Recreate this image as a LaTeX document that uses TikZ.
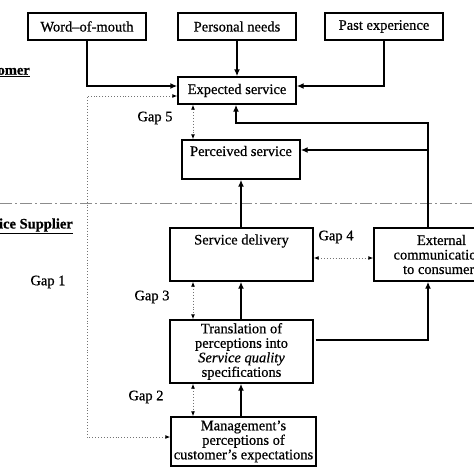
\documentclass[tikz,border=0pt]{standalone}
\usepackage{fontspec}
\setmainfont{Liberation Serif}[FakeBold=0.6]
\usetikzlibrary{arrows.meta}
\begin{document}
\begin{tikzpicture}[x=1pt,y=-1pt,
  txt/.style={font=\fontsize{14.5}{14.5}\selectfont, inner sep=0pt, align=center},
  box/.style={draw, line width=1.4pt, rectangle, inner sep=0pt, align=center, font=\fontsize{14.5}{14.5}\selectfont},
  arr/.style={line width=1.4pt, -{Latex[length=7pt,width=6pt]}},
  gaparr/.style={draw=black!55, line width=0.9pt, dotted, {Latex[length=5pt,width=4pt,black]}-{Latex[length=5pt,width=4pt,black]}},
  sect/.style={font=\bfseries\fontsize{14.5}{14.5}\selectfont, inner sep=0pt, anchor=east}]
\path[use as bounding box, clip] (0,0) rectangle (474,474);
\fill[white] (0,0) rectangle (474,474);
% boxes
\node[box, minimum width=118, minimum height=27] (wom) at (87,26.5) {Word–of-mouth};
\node[box, minimum width=118, minimum height=27] (pn) at (237,26.5) {Personal needs};
\node[box, minimum width=118, minimum height=27] (pe) at (384,26.5) {Past experience};
\node[box, minimum width=118, minimum height=27] (es) at (237,90.5) {Expected service};
\node[box, minimum width=118, minimum height=39] (ps) at (241,159.5) {};
\node[txt] (pst) at (241,151) {Perceived service};
\node[box, minimum width=143, minimum height=53] (sd) at (241.5,254.5) {};
\node[txt] (sdt) at (241.5,241) {Service delivery};
\node[box, minimum width=135, minimum height=53] (ec) at (441.5,254.5) {External\\communications\\to consumers};
\node[box, minimum width=143, minimum height=63] (tr) at (241.5,351.5) {Translation of\\perceptions into\\\textit{Service quality}\\specifications};
\node[box, minimum width=145, minimum height=49] (mg) at (243.5,441.5) {Management’s\\perceptions of\\customer’s expectations};
% section labels
\node[sect] (cust) at (30,71) {\underline{Customer}};
\node[sect] (supp) at (73,226) {\underline{Service Supplier}};
\draw[black!45, line width=0.9pt, dash pattern=on 12pt off 3pt on 2pt off 3pt] (0,203) -- (474,203);
% gap labels
\node[txt] (g5) at (155,118) {Gap 5};
\node[txt] (g4) at (336,237) {Gap 4};
\node[txt] (g1) at (48,282) {Gap 1};
\node[txt] (g3) at (152,297) {Gap 3};
\node[txt] (g2) at (146,397) {Gap 2};
% coordinates
\coordinate (gx) at (193,0);
\coordinate (sx) at (241,0);
\coordinate (ex) at (428,0);
% solid connectors
\draw[arr] (wom.south) |- (es.west |- 0,86);
\draw[arr] (pn.south) -- (es.north);
\draw[arr] (pe.south) |- (es.east |- 0,86);
\draw[arr] (ec.north -| ex) |- (236,123) -- (es.south -| 236,0);
\draw[arr] (ex |- 0,150) -- (ps.east |- 0,150);
\draw[arr] (sd.north -| sx) -- (ps.south -| sx);
\draw[arr] (tr.north -| sx) -- (sd.south -| sx);
\draw[arr] (mg.north -| sx) -- (tr.south -| sx);
\draw[arr] ([xshift=2pt]tr.east |- 0,340) -| (ec.south -| ex);
% gap connectors
\draw[gaparr] (es.south -| gx) -- (ps.north -| gx);
\draw[gaparr] (sd.south -| gx) -- (tr.north -| gx);
\draw[gaparr] (tr.south -| gx) -- (mg.north -| gx);
\draw[gaparr] (sd.east |- 0,258) -- (ec.west |- 0,258);
\draw[gaparr] (es.west |- 0,96) -| (87,437) -- (mg.west |- 0,437);
\end{tikzpicture}
\end{document}
